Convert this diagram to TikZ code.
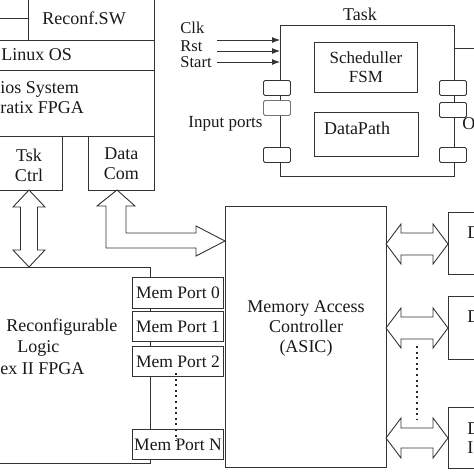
\documentclass[tikz,border=0pt]{standalone}
\usepackage{fontspec}
\setmainfont{Liberation Serif}
\usetikzlibrary{arrows.meta}
\newcommand\vdblarrow[6]{% x, ytop, ybot, headhalf, shafthalf, headlen
  \draw[dbl] (#1,#2) -- ++(#4,#6) -- ++({-(#4-#5)},0) -- (#1+#5,#3-#6) -- ++({#4-#5},0)
    -- (#1,#3) -- ++(-#4,-#6) -- ++({#4-#5},0) -- (#1-#5,#2+#6) -- ++({-(#4-#5)},0) -- cycle;}
\newcommand\hdblarrow[6]{% xleft, xright, y, headhalf, shafthalf, headlen
  \draw[dbl] (#1,#3) -- ++(#6,-#4) -- ++(0,{#4-#5}) -- (#2-#6,#3-#5) -- ++(0,{-(#4-#5)})
    -- (#2,#3) -- ++(-#6,#4) -- ++(0,{-(#4-#5)}) -- (#1+#6,#3+#5) -- ++(0,{#4-#5}) -- cycle;}
\begin{document}
\begin{tikzpicture}[x=1pt,y=-1pt,line width=0.9pt,
  every node/.style={font=\fontsize{18}{20}\selectfont,inner sep=0pt,text=black!90},
  ln/.style={draw=black!80},
  box/.style={draw=black!80,anchor=north west,align=center},
  port/.style={draw=black!80,fill=white,rounded corners=1.5pt,anchor=north west,minimum width=27pt,minimum height=15pt},
  dbl/.style={draw=black!80,fill=white,line join=miter},
  sig/.style={draw=black!80,-{Latex[length=8pt,width=6pt]}},
  dots/.style={draw=black!85,line width=2pt,dash pattern=on 2pt off 3.6pt},
  mem/.style={box,fill=white,minimum width=91pt,font=\fontsize{17.5}{20}\selectfont}]
\useasboundingbox (0,0) rectangle (474,474);
\clip (0,0) rectangle (474,474);

% ---- Nios system (top left)
\node[box,minimum width=159pt,minimum height=141pt] (nios) at (-5,-5) {};
\node[box,minimum width=126pt,minimum height=45pt] (sw) at (28,-5) {};
\node (swt) at (84,18) {Reconf.SW};
\coordinate (l1) at (-5,18);
\draw[ln] (l1) -- (sw.west |- l1);
\draw[ln] (nios.west |- sw.south) -- (sw.south west);
\coordinate (l2) at (-5,70);
\draw[ln] (l2) -- (nios.east |- l2);
\node[anchor=west] (linux) at (1,55) {Linux OS};
\node[anchor=west,align=left] (niost) at (0,98) {ios System\\ratix FPGA};

\node[box,minimum width=67pt,minimum height=54pt] (tsk) at (-5,136) {};
\node[align=center] (tskt) at (29,165) {Tsk\\Ctrl};
\node[box,minimum width=66pt,minimum height=54pt] (dc) at (88,136) {Data\\Com};

% ---- Reconfigurable logic
\node[box,minimum width=155pt,minimum height=196pt] (rl) at (-5,267) {};
\node[anchor=west] (rlt1) at (6,327) {Reconfigurable};
\node[anchor=west] (rlt2) at (17,348) {Logic};
\node[anchor=west] (rlt3) at (0,369) {ex II FPGA};

\node[mem,minimum height=31pt] (mp0) at (132,277) {Mem Port 0};
\node[mem,minimum height=30pt] (mp1) at (132,311) {Mem Port 1};
\node[mem,minimum height=30pt] (mp2) at (132,346) {Mem Port 2};
\node[mem,minimum height=30pt] (mpN) at (132,429) {Mem Port N};
\draw[dots] ([xshift=-1.5pt,yshift=4pt]mp2.south) -- ([xshift=-1.5pt,yshift=-12pt]mpN.north);

% ---- Memory access controller
\node[box,minimum width=161pt,minimum height=261pt] (mac) at (225,206) {};
\node[align=center] (mact) at (306,328) {Memory Access\\Controller\\(ASIC)};

% ---- Memories (right)
\node[box,minimum width=40pt,minimum height=62pt] (m1) at (448,212) {};
\node[box,minimum width=40pt,minimum height=63pt] (m2) at (448,296) {};
\node[box,minimum width=40pt,minimum height=61pt] (m3) at (448,407) {};
\node[anchor=west] (m1t) at (467,233) {D};
\node[anchor=west] (m2t) at (467,317) {D};
\node[anchor=west] (m3t) at (467,429) {D};
\node[anchor=west] (m3u) at (467,448) {I};

\hdblarrow{386}{448}{244}{20}{11}{15}
\hdblarrow{386}{448}{328}{20}{11}{15}
\hdblarrow{386}{448}{438}{20}{10}{15}
\draw[dots] (417,346) -- (417,420);

% ---- Tsk Ctrl arrow and Data Com arrow
\vdblarrow{29}{190}{267}{16}{8.5}{17}
\draw[dbl] (117,190) -- (135,206) -- (126,206) -- (126,233) -- (196,233) -- (196,226)
  -- (225,241) -- (196,256) -- (196,248) -- (106,248) -- (106,206) -- (97,206) -- cycle;

% ---- Task
\node (taskt) at (360,14) {Task};
\node[box,minimum width=174pt,minimum height=151pt] (task) at (280,25) {};
\node[box,minimum width=103pt,minimum height=50pt,font=\fontsize{17}{19}\selectfont] (fsm) at (314,42) {Scheduller\\FSM};
\node[box,minimum width=104pt,minimum height=44pt] (dp) at (314,112) {};
\node (dpt) at (357,128) {DataPath};

\node[port] (lp1) at (263,80) {};
\node[port,draw=black!55] (lp2) at (263,100) {};
\node[port] (lp3) at (263,147) {};
\node[port] (rp1) at (439,80) {};
\node[port] (rp2) at (439,102) {};
\node[port] (rp3) at (439,147) {};
\node[anchor=west,font=\fontsize{17}{19}\selectfont] (inp) at (188,124) {Input ports};
\node[anchor=west] (outp) at (462,124) {O};

\node[anchor=west,font=\fontsize{16.5}{18}\selectfont] (clk) at (180,28) {Clk};
\node[anchor=west,font=\fontsize{16.5}{18}\selectfont] (rst) at (180,46) {Rst};
\node[anchor=west,font=\fontsize{16.5}{18}\selectfont] (start) at (180,62) {Start};
\coordinate (c1) at (217,40);
\coordinate (c2) at (217,51);
\coordinate (c3) at (217,62);
\draw[sig] (c1) -- (task.west |- c1);
\draw[sig] (c2) -- (task.west |- c2);
\draw[sig] (c3) -- (task.west |- c3);
\coordinate (o1) at (480,48);
\draw[ln] (task.east |- o1) -- (o1);
\end{tikzpicture}
\end{document}
